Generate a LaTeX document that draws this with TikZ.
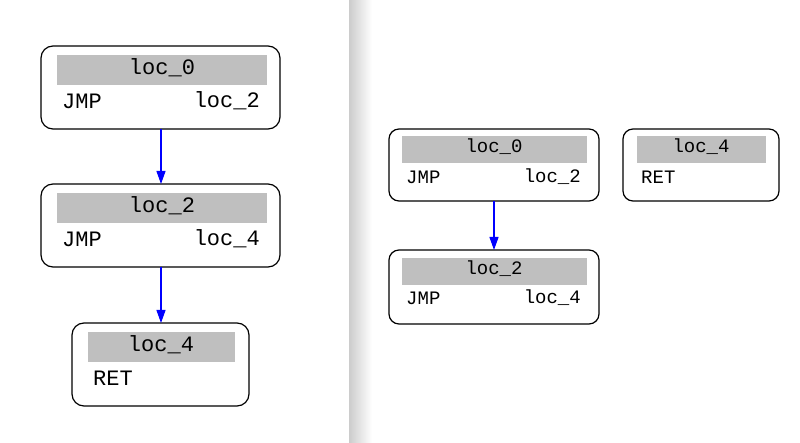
\documentclass[tikz,border=0pt]{standalone}
\usepackage{fontspec}
\setmonofont{Liberation Mono}
\usetikzlibrary{arrows.meta}
\begin{document}
\begin{tikzpicture}[x=1pt,y=-1pt,
 blk/.style={draw,rounded corners=12pt,line width=1.2pt,fill=white},
 hdr/.style={fill=black!25},
 tl/.style={font=\ttfamily\fontsize{22}{22}\selectfont,inner sep=0pt},
 tr/.style={font=\ttfamily\fontsize{19}{19}\selectfont,inner sep=0pt},
 edge/.style={blue,line width=1.2pt,-{Triangle[length=13pt,width=9pt]}}]
\useasboundingbox (0,0) rectangle (800,443);
\fill[white] (0,0) rectangle (800,443);
\shade[left color=black!20,right color=white] (349,0) rectangle (372,443);
% left
\draw[blk] (41,46) rectangle (280,129); \fill[hdr] (57,55) rectangle (267,85);
\node[tl] (l0h) at (162,68) {loc\_0};
\node[tl,anchor=west] (l0a) at (62,101) {JMP}; \node[tl,anchor=east] (l0b) at (260,101) {loc\_2};
\coordinate (l0) at (161,129);
\draw[blk] (41,184) rectangle (280,267); \fill[hdr] (57,193) rectangle (267,223);
\node[tl] (l2h) at (162,206) {loc\_2};
\node[tl,anchor=west] (l2a) at (62,239) {JMP}; \node[tl,anchor=east] (l2b) at (260,239) {loc\_4};
\coordinate (l2t) at (161,184); \coordinate (l2) at (161,267);
\draw[blk] (72,323) rectangle (249,406); \fill[hdr] (88,332) rectangle (235,362);
\node[tl] (l4h) at (161,345) {loc\_4};
\node[tl,anchor=west] (l4a) at (93,378) {RET};
\coordinate (l4t) at (161,323);
\draw[edge] (l0) -- (l2t); \draw[edge] (l2) -- (l4t);
% right
\draw[blk,rounded corners=10pt] (389,129) rectangle (599,201); \fill[hdr] (402,136) rectangle (587,163);
\node[tr] (r0h) at (494,147) {loc\_0};
\node[tr,anchor=west] (r0a) at (406,177) {JMP}; \node[tr,anchor=east] (r0b) at (581,177) {loc\_2};
\coordinate (r0) at (494,201);
\draw[blk,rounded corners=10pt] (389,250) rectangle (599,324); \fill[hdr] (402,258) rectangle (587,285);
\node[tr] (r2h) at (494,269) {loc\_2};
\node[tr,anchor=west] (r2a) at (406,298) {JMP}; \node[tr,anchor=east] (r2b) at (581,298) {loc\_4};
\coordinate (r2t) at (494,250);
\draw[blk,rounded corners=10pt] (623,129) rectangle (779,201); \fill[hdr] (637,136) rectangle (766,163);
\node[tr] (r4h) at (701,147) {loc\_4};
\node[tr,anchor=west] (r4a) at (641,177) {RET};
\draw[edge] (r0) -- (r2t);
\end{tikzpicture}
\end{document}
